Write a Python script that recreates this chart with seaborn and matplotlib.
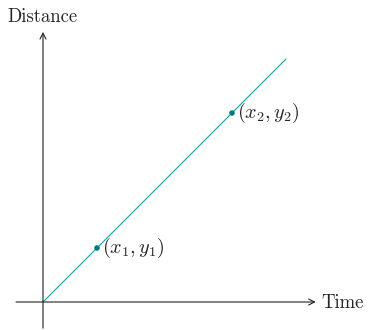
import matplotlib
matplotlib.use("Agg")
import matplotlib.pyplot as plt
import seaborn as sns
import pandas as pd

sns.set_theme(style="white")
plt.rcParams["mathtext.fontset"] = "cm"

line_x = [0, 9]
line_y = [0, 9]
point_x = [2, 7]
point_y = [2, 7]
point_labels = [r"$(x_1, y_1)$", r"$(x_2, y_2)$"]
x_label = "Time"
y_label = "Distance"

fig = plt.figure(figsize=(3.7, 3.3), dpi=100)
ax = fig.add_axes([0, 0, 1, 1])
ax.set_xlim(-43 / 27, 327 / 27)
ax.set_ylim(-28 / 27, 302 / 27)
ax.axis("off")

line_df = pd.DataFrame({"x": line_x, "y": line_y})
pts_df = pd.DataFrame({"x": point_x, "y": point_y})
sns.lineplot(data=line_df, x="x", y="y", ax=ax, color="#17a2a2", linewidth=0.8)
sns.scatterplot(data=pts_df, x="x", y="y", ax=ax, color="#007a7a", s=16,
                edgecolor="none", zorder=5)

arrow = dict(arrowstyle="->,head_length=0.35,head_width=0.18", color="#222222",
             lw=0.8, shrinkA=0, shrinkB=0)
ax.annotate("", xy=(10.1, 0), xytext=(-1.0, 0), arrowprops=arrow)
ax.annotate("", xy=(0, 10.0), xytext=(0, -0.97), arrowprops=arrow)

for x, y, lab in zip(point_x, point_y, point_labels):
    ax.text(x + 0.2, y, lab, fontsize=14.5, va="center", ha="left")

ax.text(10.3, -0.05, x_label, family="cmr10", fontsize=13.5, va="center", ha="left")
ax.text(0, 10.55, y_label, family="cmr10", fontsize=13.5, va="center", ha="center")

fig.savefig("out.png", dpi=100)
